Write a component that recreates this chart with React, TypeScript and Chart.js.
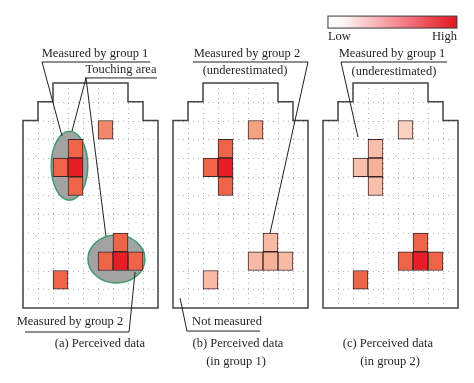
import React, { useEffect, useRef } from 'react';
import { Chart, registerables } from 'chart.js';

Chart.register(...registerables);

// ---------- data ----------
const panelIds = ['a', 'b', 'c'];
const cellCols = [5, 3, 2, 3, 3, 6, 5, 6, 7, 2];
const cellRows = [2, 3, 4, 4, 5, 8, 9, 9, 9, 10];
const perceivedA = [0.72, 0.82, 0.82, 1.0, 0.82, 0.82, 0.82, 1.0, 0.82, 0.82];
const perceivedB = [0.6, 0.82, 0.82, 1.0, 0.82, 0.45, 0.45, 0.5, 0.45, 0.45];
const perceivedC = [0.32, 0.42, 0.42, 0.5, 0.42, 0.82, 0.82, 1.0, 0.82, 0.82];
const panelValues = [perceivedA, perceivedB, perceivedC];

const captionLines = [
  ['(a) Perceived data'],
  ['(b) Perceived data', '(in group 1)'],
  ['(c) Perceived data', '(in group 2)'],
];
const legendLabels = ['Low', 'High'];

// ---------- layout (grid units: 1 col x 1 row) ----------
const PANEL_STRIDE = 10;
const GRID_COLS = 9;
const GRID_ROWS = 12;
// [fromCol, toCol, startRow]
const outlineSteps = [
  [2, 7, 0],
  [1, 8, 1],
  [0, 9, 2],
];
const ellipses = [
  { cx: 3.1, cy: 4.41, rx: 1.22, ry: 1.84 },
  { cx: 6.23, cy: 9.39, rx: 1.9, ry: 1.28 },
];

const FONT = '12.5px "Liberation Serif", "DejaVu Serif", serif';
const TEXT = '#231f20';

const labels: { t: string; x: number; y: number; a: CanvasTextAlign }[] = [
  { t: 'Measured by group 1', x: 4.8, y: -1.55, a: 'center' },
  { t: 'Touching area', x: 6.53, y: -0.69, a: 'center' },
  { t: 'Measured by group 2', x: 3.13, y: 12.75, a: 'center' },
  { t: 'Measured by group 2', x: 14.93, y: -1.55, a: 'center' },
  { t: '(underestimated)', x: 14.8, y: -0.64, a: 'center' },
  { t: 'Not measured', x: 13.6, y: 12.75, a: 'center' },
  { t: 'Measured by group 1', x: 24.6, y: -1.55, a: 'center' },
  { t: '(underestimated)', x: 24.73, y: -0.59, a: 'center' },
];
const captionPos = [
  [{ x: 5.13, y: 13.92 }],
  [{ x: 14.33, y: 13.92 }, { x: 14.2, y: 14.88 }],
  [{ x: 24.33, y: 13.92 }, { x: 24.47, y: 14.88 }],
];
const leaderLines: number[][][] = [
  [[2.6, 2.83], [1.27, -1.12], [8.47, -1.12]],
  [[4.13, -0.27], [8.93, -0.27]],
  [[3.27, 2.56], [4.2, -0.27], [5.53, 8.16]],
  [[0.13, 13.28], [7.07, 13.28], [7.47, 10.08]],
  [[11.33, -1.12], [19.0, -1.12], [16.47, 8.0]],
  [[10.47, 11.47], [10.93, 13.23], [15.8, 13.23]],
  [[22.33, 2.88], [21.2, -1.12], [28.27, -1.12]],
];
const colorBar = { x0: 20.33, x1: 28.93, y0: -3.57, y1: -2.93, labelY: -2.45 };

const colorStops: [number, number[]][] = [
  [0, [255, 255, 255]],
  [0.3, [251, 212, 198]],
  [0.45, [247, 186, 164]],
  [0.6, [244, 162, 130]],
  [0.72, [240, 136, 106]],
  [0.82, [238, 100, 72]],
  [1, [232, 30, 38]],
];
function colorFor(v: number) {
  for (let i = 1; i < colorStops.length; i++) {
    const [v1, c1] = colorStops[i];
    const [v0, c0] = colorStops[i - 1];
    if (v <= v1) {
      const t = (v - v0) / (v1 - v0);
      const c = c0.map((x, k) => Math.round(x + (c1[k] - x) * t));
      return `rgb(${c[0]},${c[1]},${c[2]})`;
    }
  }
  return 'rgb(232,30,38)';
}

const X_MIN = -23 / 15;
const X_MAX = (474 - 23) / 15;
const Y_MIN = -83 / 18.75;
const Y_MAX = (383 - 83) / 18.75;

function outlinePath(ctx: CanvasRenderingContext2D, px: (u: number) => number, py: (v: number) => number, off: number) {
  const left: number[][] = [];
  const right: number[][] = [];
  outlineSteps.forEach(([c0, c1, r], i) => {
    const next = outlineSteps[i + 1];
    const rEnd = next ? next[2] : GRID_ROWS;
    left.push([c0, r], [c0, rEnd]);
    right.push([c1, r], [c1, rEnd]);
  });
  const all = left.concat(right.reverse());
  ctx.beginPath();
  all.forEach(([c, r], i) => {
    const X = px(off + c), Y = py(r);
    if (i === 0) ctx.moveTo(X, Y); else ctx.lineTo(X, Y);
  });
  ctx.closePath();
}

const figurePlugin = {
  id: 'figure',
  beforeDatasetsDraw(chart: any) {
    const ctx: CanvasRenderingContext2D = chart.ctx;
    const px = (u: number) => chart.scales.x.getPixelForValue(u);
    const py = (v: number) => chart.scales.y.getPixelForValue(v);
    panelIds.forEach((_, p) => {
      const off = p * PANEL_STRIDE;
      ctx.save();
      outlinePath(ctx, px, py, off);
      ctx.fillStyle = '#ffffff';
      ctx.fill();
      ctx.clip();
      ctx.strokeStyle = '#b4b4b4';
      ctx.lineWidth = 1;
      ctx.setLineDash([1, 4]);
      for (let c = 1; c < GRID_COLS; c++) {
        ctx.beginPath();
        ctx.moveTo(Math.round(px(off + c)) + 0.5, py(0));
        ctx.lineTo(Math.round(px(off + c)) + 0.5, py(GRID_ROWS));
        ctx.stroke();
      }
      for (let r = 1; r < GRID_ROWS; r++) {
        ctx.beginPath();
        ctx.moveTo(px(off), Math.round(py(r)) + 0.5);
        ctx.lineTo(px(off + GRID_COLS), Math.round(py(r)) + 0.5);
        ctx.stroke();
      }
      ctx.restore();
      ctx.save();
      outlinePath(ctx, px, py, off);
      ctx.strokeStyle = '#444444';
      ctx.lineWidth = 1.5;
      ctx.stroke();
      ctx.restore();
    });
    // ellipses (panel a)
    ellipses.forEach((e) => {
      ctx.save();
      ctx.beginPath();
      ctx.ellipse(px(e.cx), py(e.cy), Math.abs(px(e.cx + e.rx) - px(e.cx)), Math.abs(py(e.cy + e.ry) - py(e.cy)), 0, 0, Math.PI * 2);
      ctx.fillStyle = '#a3a3a3';
      ctx.fill();
      ctx.strokeStyle = '#3f9a6e';
      ctx.lineWidth = 1.5;
      ctx.stroke();
      ctx.restore();
    });
  },
  afterDatasetsDraw(chart: any) {
    const ctx: CanvasRenderingContext2D = chart.ctx;
    const px = (u: number) => chart.scales.x.getPixelForValue(u);
    const py = (v: number) => chart.scales.y.getPixelForValue(v);
    ctx.save();
    ctx.strokeStyle = '#231f20';
    ctx.lineWidth = 1;
    leaderLines.forEach((line) => {
      ctx.beginPath();
      line.forEach(([u, v], i) => {
        if (i === 0) ctx.moveTo(px(u), py(v)); else ctx.lineTo(px(u), py(v));
      });
      ctx.stroke();
    });
    ctx.font = FONT;
    ctx.fillStyle = TEXT;
    ctx.textBaseline = 'middle';
    labels.forEach((l) => {
      ctx.textAlign = l.a;
      ctx.fillText(l.t, px(l.x), py(l.y));
    });
    captionLines.forEach((lines, p) => {
      lines.forEach((t, i) => {
        ctx.textAlign = 'center';
        ctx.fillText(t, px(captionPos[p][i].x), py(captionPos[p][i].y));
      });
    });
    // colour bar
    const x0 = px(colorBar.x0), x1 = px(colorBar.x1), y0 = py(colorBar.y0), y1 = py(colorBar.y1);
    const g = ctx.createLinearGradient(x0, 0, x1, 0);
    g.addColorStop(0, '#ffffff');
    g.addColorStop(0.12, '#fff4f4');
    g.addColorStop(0.5, '#f5939a');
    g.addColorStop(1, '#e3141f');
    ctx.fillStyle = g;
    ctx.fillRect(x0, y0, x1 - x0, y1 - y0);
    ctx.strokeStyle = '#3a3a3a';
    ctx.lineWidth = 1;
    ctx.strokeRect(x0, y0, x1 - x0, y1 - y0);
    ctx.fillStyle = TEXT;
    ctx.textAlign = 'left';
    ctx.fillText(legendLabels[0], x0, py(colorBar.labelY));
    ctx.textAlign = 'right';
    ctx.fillText(legendLabels[1], x1, py(colorBar.labelY));
    ctx.restore();
  },
};

export default function App() {
  const ref = useRef<HTMLCanvasElement>(null);
  useEffect(() => {
    const datasets = panelIds.map((id, p) => ({
      label: `Perceived data (${id})`,
      data: cellCols.map((c, i) => ({
        x: p * PANEL_STRIDE + c + 0.5,
        y: [cellRows[i], cellRows[i] + 1],
        v: panelValues[p][i],
      })),
      backgroundColor: (ctx: any) => colorFor(ctx.raw ? ctx.raw.v : 0),
      borderColor: '#3b2424',
      borderWidth: 1,
      borderSkipped: false,
      grouped: false,
      barPercentage: 1,
      categoryPercentage: 1,
    }));
    const intTicks = (scale: any) => {
      const t = [];
      for (let v = Math.ceil(scale.min); v <= Math.floor(scale.max); v++) t.push({ value: v });
      scale.ticks = t;
    };
    const chart = new Chart(ref.current!, {
      type: 'bar',
      data: { datasets } as any,
      options: {
        animation: false,
        responsive: false,
        events: [],
        layout: { padding: 0 },
        plugins: { legend: { display: false }, tooltip: { enabled: false } },
        scales: {
          x: { type: 'linear', min: X_MIN, max: X_MAX, offset: false, bounds: 'data', display: false, afterBuildTicks: intTicks },
          y: { type: 'linear', min: Y_MIN, max: Y_MAX, reverse: true, bounds: 'data', display: false, afterBuildTicks: intTicks },
        },
      } as any,
      plugins: [figurePlugin],
    });
    return () => chart.destroy();
  }, []);
  return (
    <div style={{ position: 'absolute', left: 0, top: 0, width: 474, height: 383, background: '#fff' }}>
      <canvas ref={ref} width={474} height={383} style={{ display: 'block', width: 474, height: 383 }} />
    </div>
  );
}
